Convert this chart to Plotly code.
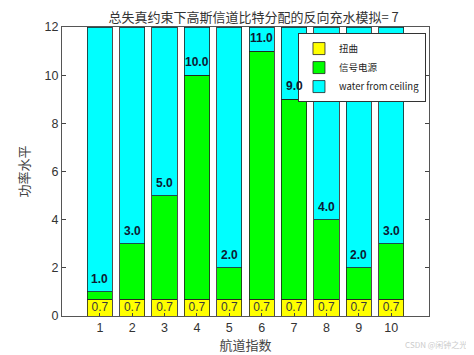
import plotly.graph_objects as go

channels = [1, 2, 3, 4, 5, 6, 7, 8, 9, 10]
distortion = [0.7, 0.7, 0.7, 0.7, 0.7, 0.7, 0.7, 0.7, 0.7, 0.7]
signal_level = [1.0, 3.0, 5.0, 10.0, 2.0, 11.0, 9.0, 4.0, 2.0, 3.0]
water_level = 12.0

signal_part = [s - d for s, d in zip(signal_level, distortion)]
water_part = [water_level - s for s in signal_level]

CJK = "Noto Sans CJK SC"
SANS = "Liberation Sans, Arial, sans-serif"
line = dict(color="#222222", width=0.8)

fig = go.Figure()
fig.add_trace(go.Bar(x=channels, y=distortion, name="扭曲", marker=dict(color="#FFFF00", line=line),
                     width=0.78))
fig.add_trace(go.Bar(x=channels, y=signal_part, name="信号电源", marker=dict(color="#00FF00", line=line),
                     width=0.78))
fig.add_trace(go.Bar(x=channels, y=water_part, name="water from ceiling", marker=dict(color="#00FFFF", line=line),
                     width=0.78))
# labels inside yellow part
fig.add_trace(go.Scatter(x=channels, y=[d / 2 for d in distortion], mode="text",
                         text=[f"{v:.1f}" for v in distortion], textposition="middle center",
                         textfont=dict(size=12, color="#3a3a3a", family=SANS),
                         showlegend=False, cliponaxis=False, hoverinfo="skip"))

for xv, yv in zip(channels, signal_level):
    fig.add_annotation(x=xv, y=yv, text=f"<b>{yv:.1f}</b>", showarrow=False, yshift=13,
                       xanchor="center", yanchor="middle",
                       font=dict(size=12, color="#0d1a33", family=SANS))

# page body has an 8px default margin, so the figure is 8px smaller than the window
fig.update_layout(
    barmode="stack",
    width=466, height=347,
    margin=dict(l=54, r=45, t=19, b=39, autoexpand=False),
    paper_bgcolor="white", plot_bgcolor="white",
    title=dict(text="总失真约束下高斯信道比特分配的反向充水模拟= 7", x=0.527, xanchor="center", y=0.974, yanchor="middle",
               font=dict(family=CJK, size=13, color="#333333")),
    legend=dict(x=0.643, y=0.979, xanchor="left", yanchor="top", bgcolor="white",
                bordercolor="#333333", borderwidth=1, font=dict(family=CJK, size=9.5, color="#222222"),
                tracegroupgap=0, itemwidth=30, traceorder="normal"),
    font=dict(family=SANS, size=12, color="#333333"),
    showlegend=True,
)
fig.update_xaxes(range=[-0.17, 11.17], tickvals=channels, ticks="inside", ticklen=3, showgrid=False,
                 showline=True, linecolor="#555555", mirror=True, zeroline=False, automargin=False,
                 title=dict(text="航道指数", font=dict(family=CJK, size=13, color="#444444"), standoff=4),
                 tickfont=dict(size=12.5, color="#333333", family=SANS))
fig.update_yaxes(range=[0, 12], tickvals=[0, 2, 4, 6, 8, 10, 12], ticks="inside", ticklen=4, showgrid=False,
                 showline=True, linecolor="#555555", mirror="ticks", zeroline=False, automargin=False,
                 title=dict(text="功率水平", font=dict(family=CJK, size=13, color="#444444"), standoff=12),
                 tickfont=dict(size=12.5, color="#333333", family=SANS))
fig.add_annotation(text="CSDN @闲钟之光", xref="paper", yref="paper", x=1.11, y=-0.125, xanchor="right",
                   yanchor="bottom", showarrow=False, font=dict(family=CJK, size=8, color="#cccccc"))

fig.write_html("out.html")
